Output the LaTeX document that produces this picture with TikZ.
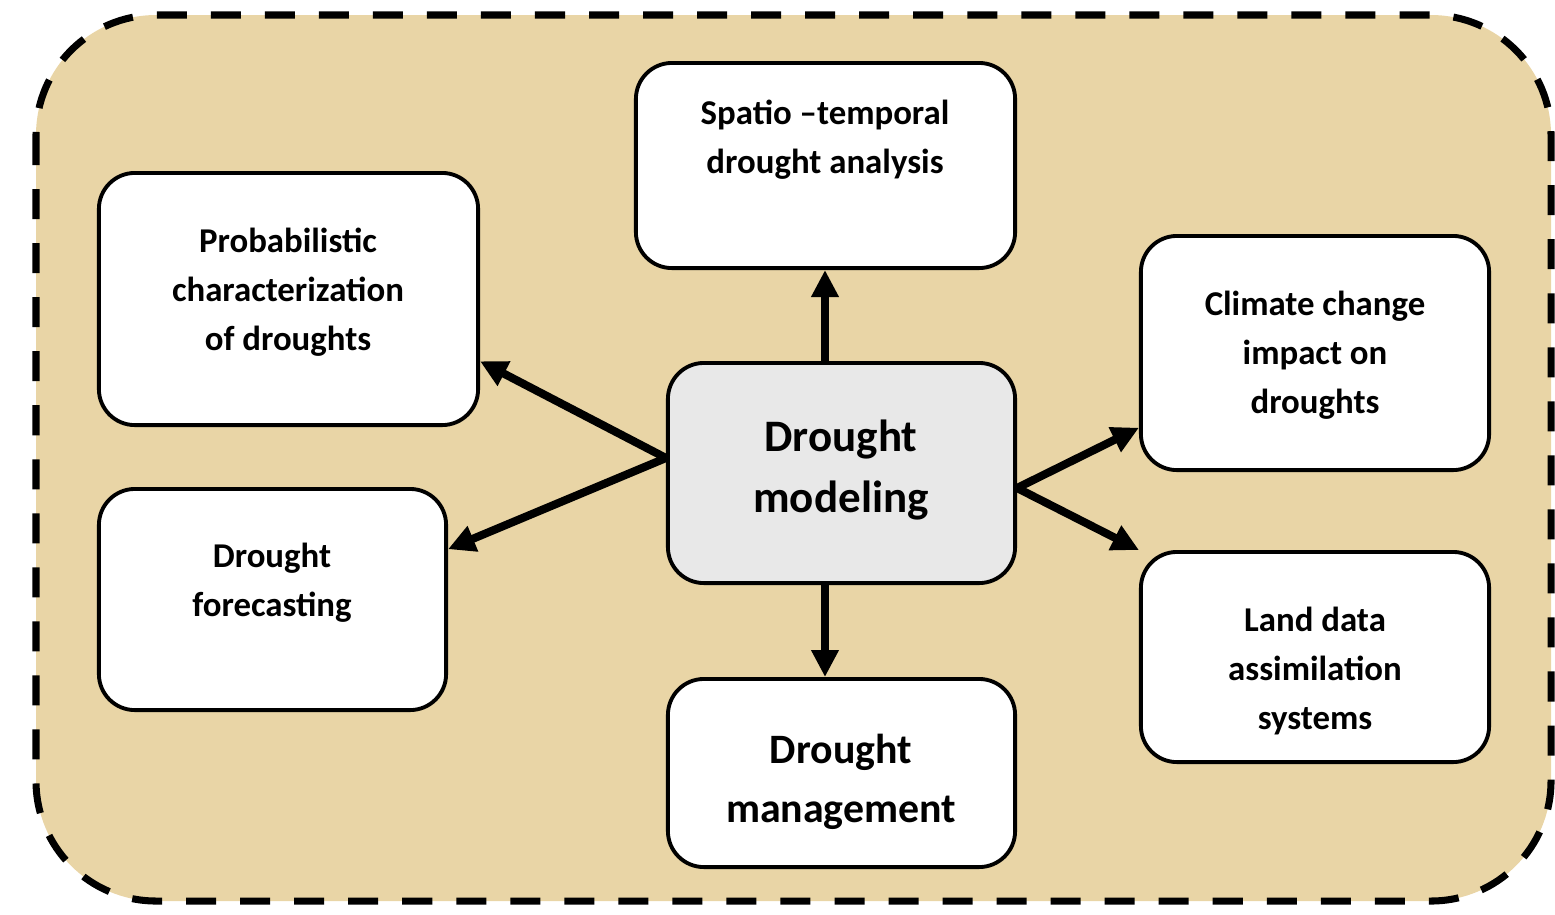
\documentclass[tikz,border=0pt]{standalone}
\usepackage{fontspec}
\setmainfont{Carlito}
\usetikzlibrary{arrows.meta}
\definecolor{papyrus}{RGB}{233,213,166}
\definecolor{hubgray}{RGB}{232,232,232}

\begin{document}
\begin{tikzpicture}[x=0.01cm, y=-0.01cm, thick,
    topic/.style={draw, line width=1.1pt, fill=white, rounded corners=0.36cm, inner sep=0pt},
    topictext/.style={font=\bfseries\fontsize{9.9}{13.9}\selectfont, align=center},
    hubtext/.style={font=\bfseries\fontsize{12.8}{17.6}\selectfont, align=center},
    link/.style={line width=2.3pt, -{Triangle[length=0.27cm, width=0.26cm]}}]
  \useasboundingbox (0,0) rectangle (1555,914);
  \draw [fill=papyrus, line width=2pt, dash pattern=on 0.3cm off 0.24cm, rounded corners=1.2cm]
    (36,15) rectangle (1551,901);

  % boxes
  \node [topic, minimum width=3.79cm, minimum height=2.05cm] (spatio) at (825.5,165.5) {};
  \node [topic, minimum width=3.79cm, minimum height=2.52cm] (prob) at (288.5,299) {};
  \node [topic, fill=hubgray, minimum width=3.47cm, minimum height=2.20cm] (model) at (841.5,473) {};
  \node [topic, minimum width=3.48cm, minimum height=2.34cm] (climate) at (1315,353) {};
  \node [topic, minimum width=3.47cm, minimum height=2.21cm] (forecast) at (272.5,599.5) {};
  \node [topic, minimum width=3.48cm, minimum height=2.10cm] (land) at (1315,657) {};
  \node [topic, minimum width=3.47cm, minimum height=1.88cm] (manage) at (841.5,773) {};

  \node [topictext] (spatio-t) at (825,140) {Spatio –temporal\\drought analysis};
  \node [topictext] (prob-t) at (288,292) {Probabilistic\\characterization\\of droughts};
  \node [hubtext] (model-t) at (841,470) {Drought\\modeling};
  \node [topictext] (climate-t) at (1315,355) {Climate change\\impact on\\droughts};
  \node [topictext] (forecast-t) at (272,583) {Drought\\forecasting};
  \node [topictext] (land-t) at (1315,671) {Land data\\assimilation\\systems};
  \node [hubtext, font=\bfseries\fontsize{11.9}{16.7}\selectfont] (manage-t) at (841,782) {Drought\\management};

  % arrows
  \coordinate (hubL) at ([yshift=0.15cm]model.west);
  \coordinate (hubR) at ([yshift=-0.15cm]model.east);
  \draw [link] ([xshift=-0.165cm]model.north) -- ([xshift=-0.165cm]model.north |- spatio.south);
  \draw [link] ([xshift=-0.165cm]model.south) -- ([xshift=-0.165cm]manage.north);
  \draw [link] (hubL) -- (prob.-18.7);
  \draw [link] (hubL) -- (forecast.16);
  \draw [link] (hubR) -- (climate.203);
  \draw [link] (hubR) -- (land.north west);
\end{tikzpicture}
\end{document}
